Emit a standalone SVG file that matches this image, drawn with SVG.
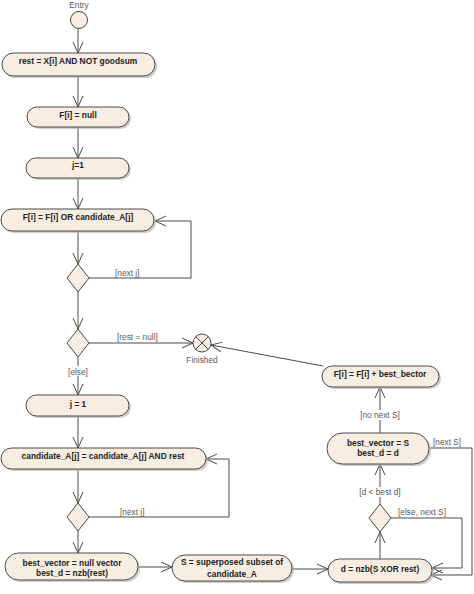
<svg xmlns="http://www.w3.org/2000/svg" width="474" height="594" viewBox="0 0 474 594">
<defs>
<style>
.nd{fill:#f7eee1;stroke:#4a4a4a;stroke-width:1}
.sh{fill:#b8b8b8;opacity:0.7}
.t{font-family:"Liberation Sans",Arial,sans-serif;font-size:8.4px;font-weight:bold;fill:#222;text-anchor:middle}
.lb{font-family:"Liberation Sans",Arial,sans-serif;font-size:8.3px;fill:#5a5a5a}
.lbc{font-family:"Liberation Sans",Arial,sans-serif;font-size:8.3px;fill:#5a5a5a;text-anchor:middle}
.cn{fill:none;stroke:#4a4a4a;stroke-width:1}
.bg{fill:#fff}
</style>
<marker id="ah" markerWidth="12" markerHeight="12" refX="11" refY="6" orient="auto" markerUnits="userSpaceOnUse">
<path d="M0,1 L11,6 L0,11" fill="none" stroke="#4a4a4a" stroke-width="1"/>
</marker>
</defs>
<rect width="474" height="594" fill="#fff"/>

<g id="connectors">
<path class="cn" d="M78,29 V53" marker-end="url(#ah)"/>
<path class="cn" d="M78,76 V107" marker-end="url(#ah)"/>
<path class="cn" d="M78,127 V158" marker-end="url(#ah)"/>
<path class="cn" d="M78,178 V209" marker-end="url(#ah)"/>
<path class="cn" d="M78,231 V264" marker-end="url(#ah)"/>
<path class="cn" d="M89,278 H191 V221 H155" marker-end="url(#ah)"/>
<path class="cn" d="M78,292 V329" marker-end="url(#ah)"/>
<path class="cn" d="M89,343 H193" marker-end="url(#ah)"/>
<path class="cn" d="M78,357 V395" marker-end="url(#ah)"/>
<path class="cn" d="M78,416 V448" marker-end="url(#ah)"/>
<path class="cn" d="M78,469 V503" marker-end="url(#ah)"/>
<path class="cn" d="M89,517 H229 V459 H206" marker-end="url(#ah)"/>
<path class="cn" d="M78,531 V553" marker-end="url(#ah)"/>
<path class="cn" d="M138,567 H172" marker-end="url(#ah)"/>
<path class="cn" d="M292,569 H328" marker-end="url(#ah)"/>
<path class="cn" d="M380,559 V532" marker-end="url(#ah)"/>
<path class="cn" d="M380,504 V464" marker-end="url(#ah)"/>
<path class="cn" d="M391,518 H462 V568 H432" marker-end="url(#ah)"/>
<path class="cn" d="M429,448 H472 V575 H431" marker-end="url(#ah)"/>
<path class="cn" d="M380,433 V387" marker-end="url(#ah)"/>
<path class="cn" d="M323,366 L211,345" marker-end="url(#ah)"/>
<text class="lb" x="115" y="276">[next j]</text>
<text class="lb" x="117" y="340">[rest = null]</text>
<rect class="bg" x="66" y="366" width="24" height="10"/>
<text class="lbc" x="78" y="375">[else]</text>
<rect class="bg" x="357" y="487" width="46" height="10"/>
<text class="lbc" x="380" y="495">[d &lt; best d]</text>
<text class="lb" x="120" y="515">[next j]</text>
<text class="lb" x="398" y="515">[else, next S]</text>
<text class="lb" x="433" y="445">[next S]</text>
<rect class="bg" x="359" y="410" width="42" height="10"/>
<text class="lbc" x="380" y="418">[no next S]</text>
</g>

<g id="entry">
<circle cx="79" cy="20" r="8.5" class="nd"/>
<text class="lbc" x="79" y="8">Entry</text>
</g>

<g id="n1">
<rect class="sh" x="4" y="55" width="153" height="23" rx="11.5"/>
<rect class="nd" x="2" y="53" width="153" height="23" rx="11.5"/>
<text class="t" x="78" y="64">rest = X[i] AND NOT goodsum</text>
</g>
<g id="n2">
<rect class="sh" x="29" y="109" width="102" height="20" rx="10"/>
<rect class="nd" x="27" y="107" width="102" height="20" rx="10"/>
<text class="t" x="78" y="118">F[i] = null</text>
</g>
<g id="n3">
<rect class="sh" x="28" y="160" width="103" height="20" rx="10"/>
<rect class="nd" x="26" y="158" width="103" height="20" rx="10"/>
<text class="t" x="78" y="168">j=1</text>
</g>
<g id="n4">
<rect class="sh" x="3" y="211" width="153" height="22" rx="11"/>
<rect class="nd" x="1" y="209" width="153" height="22" rx="11"/>
<text class="t" x="78" y="220">F[i] = F[i] OR candidate_A[j]</text>
</g>
<g id="d1">
<path class="nd" d="M78,264 L89,278 L78,292 L67,278 Z"/>
</g>
<g id="d2">
<path class="nd" d="M78,329 L89,343 L78,357 L67,343 Z"/>
</g>
<g id="finished">
<circle cx="202" cy="343" r="9" class="nd"/>
<path class="cn" d="M195.6,336.6 L208.4,349.4 M208.4,336.6 L195.6,349.4"/>
<text class="lbc" x="202" y="363">Finished</text>
</g>
<g id="n5">
<rect class="sh" x="28" y="397" width="103" height="21" rx="10.5"/>
<rect class="nd" x="26" y="395" width="103" height="21" rx="10.5"/>
<text class="t" x="78" y="407">j = 1</text>
</g>
<g id="n6">
<rect class="sh" x="3" y="450" width="205" height="21" rx="10.5"/>
<rect class="nd" x="1" y="448" width="205" height="21" rx="10.5"/>
<text class="t" x="103" y="459">candidate_A[j] = candidate_A[j] AND rest</text>
</g>
<g id="d3">
<path class="nd" d="M78,503 L89,517 L78,531 L67,517 Z"/>
</g>
<g id="n7">
<rect class="sh" x="7" y="555" width="133" height="27" rx="13.5"/>
<rect class="nd" x="5" y="553" width="133" height="27" rx="13.5"/>
<text class="t" x="72" y="566">best_vector = null vector</text>
<text class="t" x="72" y="576">best_d = nzb(rest)</text>
</g>
<g id="n8">
<rect class="sh" x="174" y="557" width="120" height="26" rx="13"/>
<rect class="nd" x="172" y="555" width="120" height="26" rx="13"/>
<text class="t" x="232" y="565">S = superposed subset of</text>
<text class="t" x="232" y="577">candidate_A</text>
</g>
<g id="n9">
<rect class="sh" x="330" y="561" width="104" height="23" rx="11.5"/>
<rect class="nd" x="328" y="559" width="104" height="23" rx="11.5"/>
<text class="t" x="380" y="572">d = nzb(S XOR rest)</text>
</g>
<g id="d4">
<path class="nd" d="M380,504 L391,518 L380,532 L369,518 Z"/>
</g>
<g id="n10">
<rect class="sh" x="329" y="435" width="102" height="31" rx="15.5"/>
<rect class="nd" x="327" y="433" width="102" height="31" rx="15.5"/>
<text class="t" x="378" y="446">best_vector = S</text>
<text class="t" x="378" y="456">best_d = d</text>
</g>
<g id="n11">
<rect class="sh" x="324" y="368" width="117" height="21" rx="10.5"/>
<rect class="nd" x="322" y="366" width="117" height="21" rx="10.5"/>
<text class="t" x="380" y="377">F[i] = F[i] + best_bector</text>
</g>
</svg>
